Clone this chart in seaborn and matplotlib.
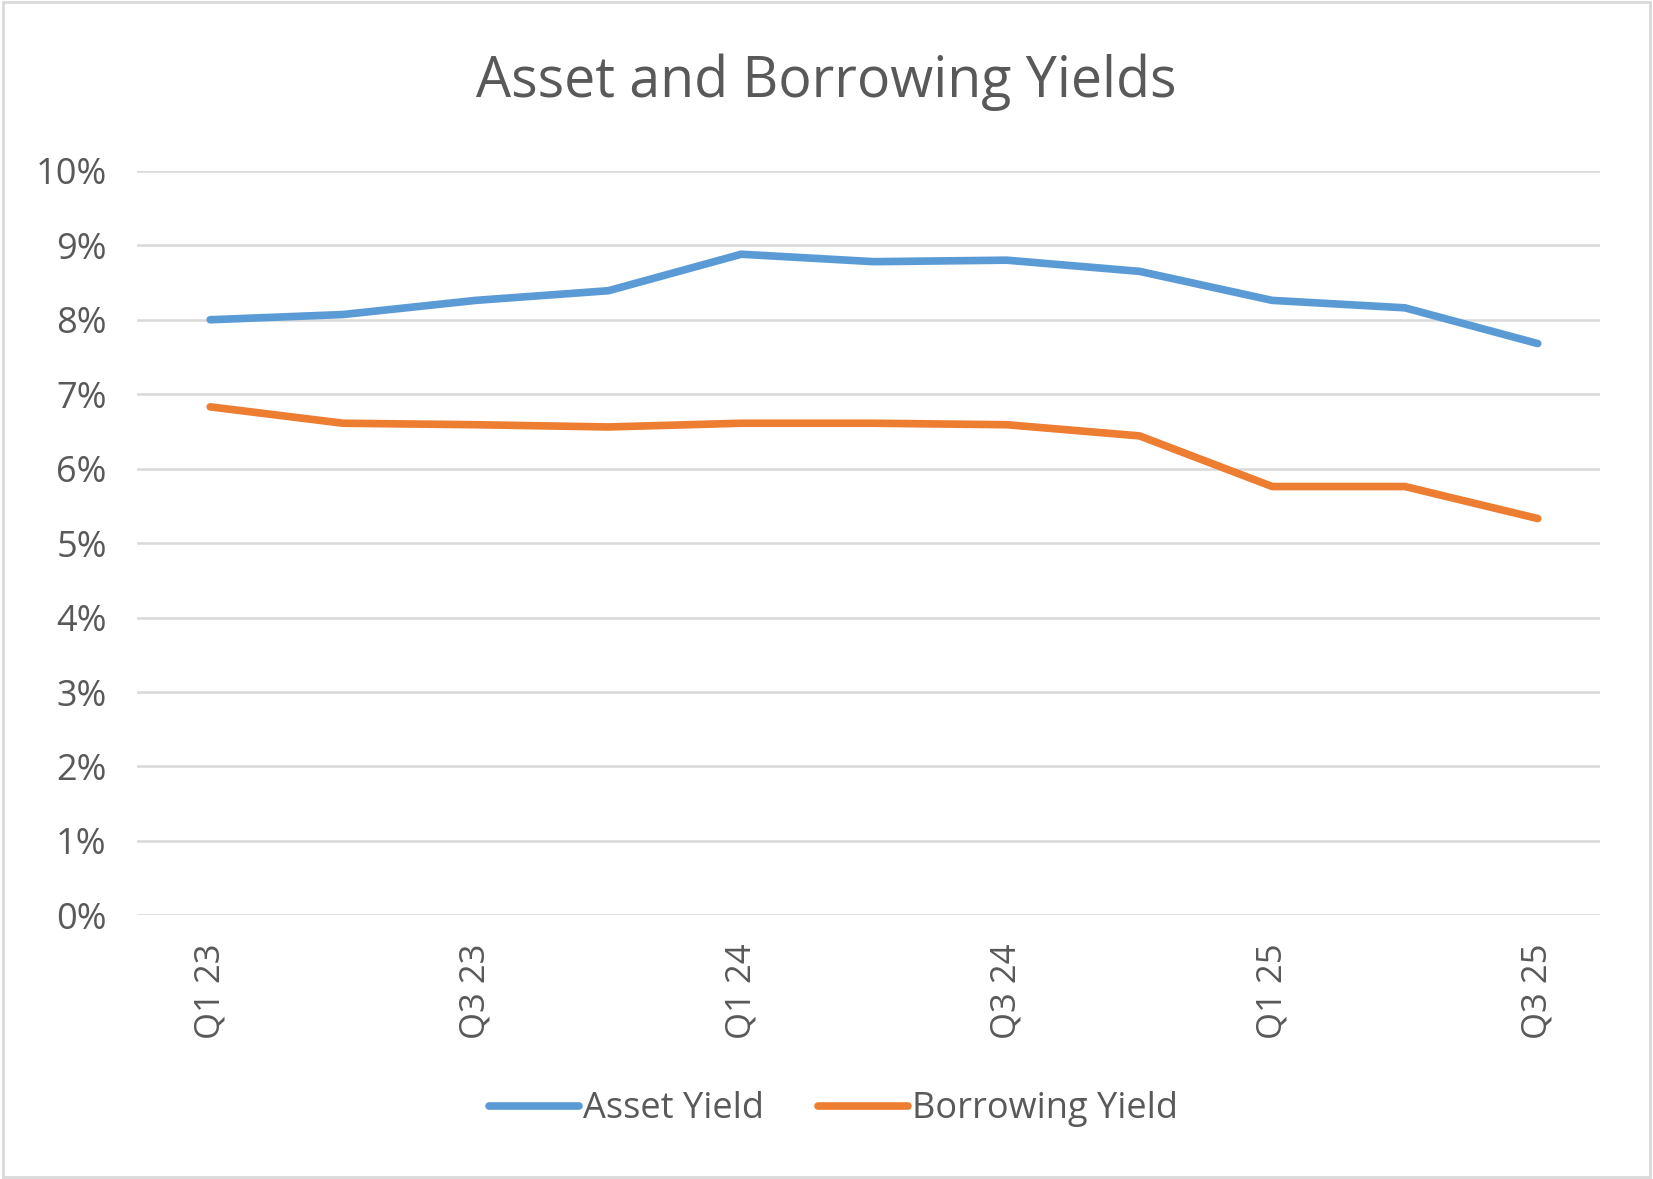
import pandas as pd
import seaborn as sns
import matplotlib.pyplot as plt
from matplotlib.patches import Rectangle

# Datos
trimestres = ["Q1 23", "Q2 23", "Q3 23", "Q4 23", "Q1 24", "Q2 24",
              "Q3 24", "Q4 24", "Q1 25", "Q2 25", "Q3 25"]
asset_yield = [8.00, 8.07, 8.26, 8.39, 8.88, 8.78, 8.80, 8.65, 8.26, 8.16, 7.68]
borrowing_yield = [6.83, 6.61, 6.59, 6.56, 6.61, 6.61, 6.59, 6.44, 5.76, 5.76, 5.33]
etiquetas_y = ["0%", "1%", "2%", "3%", "4%", "5%", "6%", "7%", "8%", "9%", "10%"]

df = pd.DataFrame({
    "trimestre": trimestres * 2,
    "valor": asset_yield + borrowing_yield,
    "serie": ["Asset Yield"] * len(trimestres) + ["Borrowing Yield"] * len(trimestres),
})

sns.set_style("white")
plt.rcParams['font.family'] = ['Open Sans', 'DejaVu Sans']
gris = "#595959"

fig = plt.figure(figsize=(16.53, 11.79), dpi=100)
ax = fig.add_axes([0.083, 0.2236, 0.885, 0.6315])

sns.lineplot(data=df, x="trimestre", y="valor", hue="serie", sort=False,
             palette={"Asset Yield": "#5B9BD5", "Borrowing Yield": "#ED7D31"},
             linewidth=5.5, ax=ax)

ax.set_ylim(0, 10)
ax.set_xlim(-0.55, len(trimestres) - 0.53)
ax.set_yticks(range(11))
ax.set_yticklabels(etiquetas_y, fontsize=26, color=gris)
ax.set_xticks(range(0, len(trimestres), 2))
ax.set_xticklabels(trimestres[::2], rotation=90, fontsize=25, color=gris)
ax.tick_params(axis="y", length=0, pad=22)
ax.tick_params(axis="x", length=0, pad=20)
ax.grid(axis="y", color="#D9D9D9", linewidth=1.8)
ax.set_axisbelow(True)
for lado in ["left", "right", "top", "bottom"]:
    ax.spines[lado].set_visible(False)
ax.set_xlabel("")
ax.set_ylabel("")

fig.suptitle("Asset and Borrowing Yields", fontsize=40, color=gris, y=0.955)

leg = ax.legend(loc="center", bbox_to_anchor=(0.504, 0.059),
                bbox_transform=fig.transFigure, ncol=2, frameon=False,
                fontsize=26, handlelength=2.5, columnspacing=1.5, handletextpad=0.1)
for t in leg.get_texts():
    t.set_color(gris)

# Borde de la figura
fig.patches.append(Rectangle((0.002, 0.002), 0.996, 0.996, transform=fig.transFigure,
                             fill=False, edgecolor="#D9D9D9", linewidth=2))

fig.savefig("out.png", dpi=100)
